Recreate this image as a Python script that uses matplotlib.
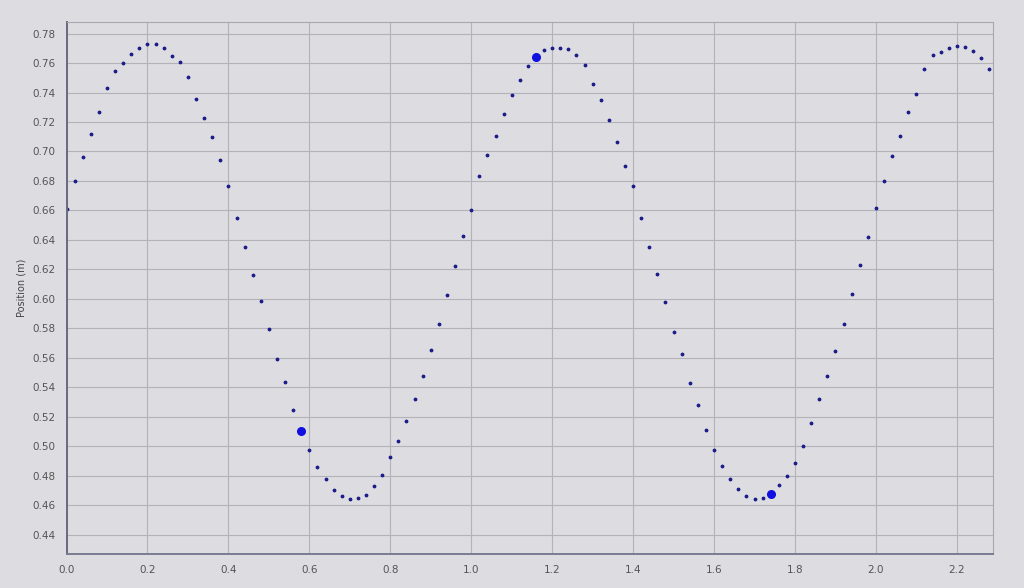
import numpy as np
from matplotlib import pyplot as plt
import matplotlib.ticker as mtick

# sample times (s), logged every 0.02 s
dt = 0.02
position = [
    0.661, 0.680, 0.696, 0.712, 0.7265, 0.743, 0.7544, 0.7597, 0.7661, 0.7704,
    0.7730, 0.7731, 0.7703, 0.7651, 0.7605, 0.7505, 0.7358, 0.7225, 0.7098, 0.6942,
    0.6768, 0.6550, 0.6355, 0.6162, 0.5983, 0.5798, 0.5592, 0.5434, 0.5246, 0.5104,
    0.4975, 0.4860, 0.4775, 0.4704, 0.4661, 0.4640, 0.4647, 0.4668, 0.4731, 0.4802,
    0.4924, 0.5038, 0.5174, 0.5320, 0.5478, 0.5655, 0.5831, 0.6028, 0.6225, 0.6424,
    0.6604, 0.6832, 0.6976, 0.7108, 0.7251, 0.7382, 0.7487, 0.7578, 0.7641, 0.7690,
    0.7702, 0.7701, 0.7694, 0.7656, 0.7586, 0.7461, 0.7350, 0.7212, 0.7061, 0.6899,
    0.6769, 0.6547, 0.6352, 0.6166, 0.5976, 0.5774, 0.5625, 0.5429, 0.5280, 0.5111,
    0.4976, 0.4869, 0.4776, 0.4707, 0.4665, 0.4644, 0.4651, 0.4678, 0.4734, 0.4797,
    0.4889, 0.5003, 0.5160, 0.5318, 0.5479, 0.5646, 0.5827, 0.6034, 0.6229, 0.6421,
    0.6614, 0.6801, 0.6967, 0.7102, 0.7270, 0.7392, 0.7559, 0.7652, 0.7676, 0.7700,
    0.7717, 0.7711, 0.7685, 0.7636, 0.7561,
]
# highlighted (selected) samples
big_idx = [29, 58, 87]

pos_array = np.array(position)
time_array = np.arange(len(pos_array)) * dt

bg = '#dddde1'
fig = plt.figure(figsize=(10.24, 5.88), dpi=100, facecolor=bg)
ax = fig.add_axes([0.065, 0.058, 0.905, 0.905])
ax.set_facecolor(bg)

ax.plot(time_array, pos_array, '.', color='#1c1c8a', ms=3.5, linestyle='none')
ax.plot(time_array[big_idx], pos_array[big_idx], 'o', color='#1010e0', ms=5.5)

ax.set_xlim(0, 2.29)
ax.set_ylim(0.427, 0.788)
ax.xaxis.set_major_locator(mtick.MultipleLocator(0.2))
ax.yaxis.set_major_locator(mtick.MultipleLocator(0.02))
ax.xaxis.set_major_formatter(mtick.FormatStrFormatter('%.1f'))
ax.yaxis.set_major_formatter(mtick.FormatStrFormatter('%.2f'))
ax.grid(True, color='#b2b2b8', linewidth=0.8)
ax.tick_params(labelsize=7.5, colors='#555555', length=0, pad=8)
for s in ax.spines.values():
    s.set_color('#a8a8b0')
ax.spines['left'].set_color('#6a6a80')
ax.spines['left'].set_linewidth(1.4)
ax.spines['bottom'].set_color('#7a7a90')
ax.spines['bottom'].set_linewidth(1.4)

ax.set_ylabel("Position (m)", fontsize=7, color='#444444', labelpad=4)

plt.savefig("out.png", facecolor=bg)
